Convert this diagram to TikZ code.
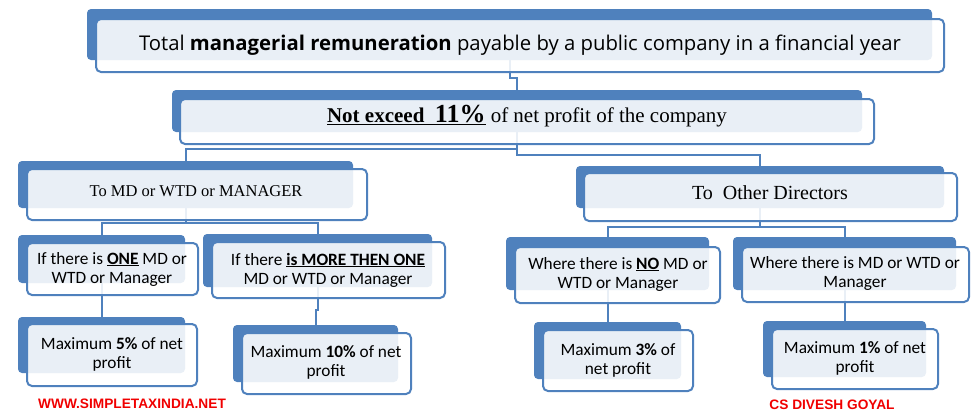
\documentclass[tikz,border=0pt]{standalone}
\usepackage{fontspec}
\setmainfont{Liberation Serif}
\newfontfamily\calfont{Carlito}
\newfontfamily\headfont{Open Sans}
\newfontfamily\redfont{Liberation Sans}
\usetikzlibrary{backgrounds}
\definecolor{boxblue}{HTML}{4F81BD}
\definecolor{redtxt}{HTML}{F00000}
\newcommand\stbox[7]{\node[#6, minimum width={(#4-#2)*1pt}, minimum height={(#5-#3)*1pt}] (#1) at ({(#2+#4)/2},{(#3+#5)/2}) {#7};}
\begin{document}
\begin{tikzpicture}[x=1pt,y=-1pt,
  backbox/.style={fill=boxblue, draw=none, rounded corners=4pt, inner sep=0pt, outer sep=0pt},
  frontbox/.style={fill=white, fill opacity=0.88, draw=boxblue, draw opacity=1, line width=2pt, rounded corners=5pt, inner sep=0pt, outer sep=0pt},
  conn/.style={draw=boxblue, line width=2pt},
  caltext/.style={font=\calfont\fontsize{17.3}{19}\selectfont, align=center, inner sep=0pt},
  sertext/.style={font=\fontsize{16.5}{20}\selectfont, align=center, inner sep=0pt},
  redtext/.style={font=\redfont\bfseries\fontsize{13.7}{16}\selectfont, text=redtxt, inner sep=0pt}]
\useasboundingbox (0,0) rectangle (979,415);
% top
\stbox{tB}{87}{9}{932}{60}{backbox}{}
\stbox{tF}{96}{19}{944}{72}{frontbox}{}
% second
\stbox{sB}{172}{90}{862}{132}{backbox}{}
\stbox{sF}{180}{99}{874}{144}{frontbox}{}
% to MD
\stbox{mB}{18}{161}{353}{208}{backbox}{}
\stbox{mF}{27}{169}{367}{220}{frontbox}{}
% to other
\stbox{oB}{576}{166}{944}{208}{backbox}{}
\stbox{oF}{584}{173}{957}{221}{frontbox}{}
% level 3
\stbox{aB}{18}{235}{185}{283}{backbox}{}
\stbox{aF}{27}{243}{198}{295}{frontbox}{}
\stbox{bB}{203}{234}{432}{287}{backbox}{}
\stbox{bF}{212}{242}{445}{298}{frontbox}{}
\stbox{cB}{506}{237}{709}{290}{backbox}{}
\stbox{cF}{515}{247}{720}{303}{frontbox}{}
\stbox{dB}{733}{237}{956}{290}{backbox}{}
\stbox{dF}{742}{247}{969}{302}{frontbox}{}
% level 4
\stbox{eB}{18}{317}{185}{373}{backbox}{}
\stbox{eF}{27}{324}{197}{386}{frontbox}{}
\stbox{fB}{233}{325}{398}{382}{backbox}{}
\stbox{fF}{242}{333}{411}{394}{frontbox}{}
\stbox{gB}{534}{322}{681}{379}{backbox}{}
\stbox{gF}{543}{330}{693}{391}{frontbox}{}
\stbox{hB}{763}{321}{926}{377}{backbox}{}
\stbox{hF}{772}{329}{938}{389}{frontbox}{}
% connectors
\begin{scope}[on background layer]
\draw[conn] (tB.south) -- ++(0,18) -| (sB.north);
\draw[conn] (sB.south) -- ++(0,17) -| (mB.north);
\draw[conn] (sB.south) -- ++(0,23) -| (oB.north);
\draw[conn] (mB.south) -- ++(0,15) -| (aB.north);
\draw[conn] (mB.south) -- ++(0,15) -| (bB.north);
\draw[conn] (oB.south) -- ++(0,19) -| (cB.north);
\draw[conn] (oB.south) -- ++(0,19) -| (dB.north);
\draw[conn] (aB.south) -- (eB.north);
\draw[conn] (bB.south) -- ++(0,23) -| (fB.north);
\draw[conn] (cB.south) -- (gB.north);
\draw[conn] (dB.south) -- (hB.north);
\end{scope}
% texts
\node[font=\headfont\fontsize{20.3}{24}\selectfont, inner sep=0pt] (tT) at (520,45) {Total \textbf{managerial remuneration} payable by a public company in a financial year};
\node[font=\fontsize{21}{24}\selectfont, inner sep=0pt] (sT) at (527,116) {\underline{\textbf{Not exceed\ \ {\fontsize{26}{26}\selectfont 11\%}}} of net profit of the company};
\node[sertext] (mT) at (196,191) {To MD or WTD or MANAGER};
\node[sertext, font=\fontsize{20}{24}\selectfont] (oT) at (770,193) {To\ \ Other Directors};
\node[caltext] (aT) at (112,269) {If there is \underline{\textbf{ONE}} MD or\\WTD or Manager};
\node[caltext] (bT) at (328,270) {If there \underline{\textbf{is MORE THEN ONE}}\\MD or WTD or Manager};
\node[caltext] (cT) at (618,274) {Where there is \underline{\textbf{NO}} MD or\\WTD or Manager};
\node[caltext] (dT) at (855,273) {Where there is MD or WTD or\\Manager};
\node[caltext] (eT) at (112,354) {Maximum \textbf{5\%} of net\\profit};
\node[caltext] (fT) at (326,362) {Maximum \textbf{10\%} of net\\profit};
\node[caltext] (gT) at (618,360) {Maximum \textbf{3\%} of\\net profit};
\node[caltext] (hT) at (855,358) {Maximum \textbf{1\%} of net\\profit};
\node[redtext] (r1) at (132,404) {WWW.SIMPLETAXINDIA.NET};
\node[redtext] (r2) at (832,405) {CS DIVESH GOYAL};
\end{tikzpicture}
\end{document}
